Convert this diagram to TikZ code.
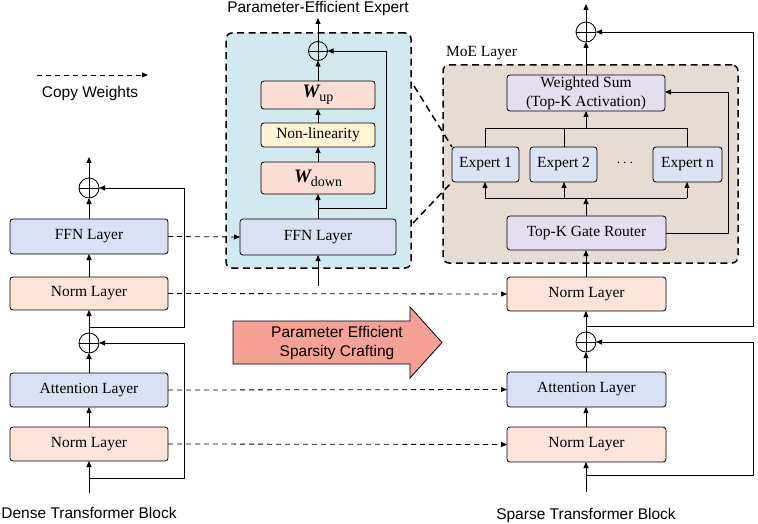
\documentclass[tikz,border=0pt]{standalone}
\usepackage{fontspec}
\setmainfont{Liberation Serif}
\newfontfamily\hv{Liberation Sans}
\usetikzlibrary{arrows.meta,calc}
\definecolor{cblue}{HTML}{DAE1F4}
\definecolor{cpeach}{HTML}{FCE4D8}
\definecolor{cwbox}{HTML}{FADDD3}
\definecolor{cyel}{HTML}{FFF4D6}
\definecolor{cexp}{HTML}{DBE3F5}
\definecolor{clav}{HTML}{E4DEF0}
\definecolor{cmoe}{HTML}{E7DCD3}
\definecolor{ccyan}{HTML}{D3E9F0}
\definecolor{csalmon}{HTML}{F5A195}
\begin{document}
\begin{tikzpicture}[x=1pt,y=-1pt,
  every node/.style={inner sep=0pt,outer sep=0pt},
  txt/.style={font=\fontsize{15.5}{19}\selectfont},
  stxt/.style={font=\hv\fontsize{15.5}{19}\selectfont},
  box/.style={draw,line width=0.8pt,rounded corners=3pt,align=center,txt},
  plusc/.style={draw,circle,line width=0.8pt,minimum size=20pt},
  ln/.style={line width=0.8pt},
  arr/.style={line width=0.8pt,-{Triangle[length=6pt,width=5pt]}},
  darr/.style={line width=0.8pt,dash pattern=on 5pt off 4pt,-{Triangle[length=6pt,width=5pt]}},
  grp/.style={draw,line width=1.5pt,dash pattern=on 7pt off 4.5pt,rounded corners=6pt}]
\useasboundingbox (0,0) rectangle (758,524);

% ---------- group backgrounds ----------
\node[grp,fill=ccyan,minimum width=185pt,minimum height=235pt] (ebg) at (318.5,150.5) {};
\node[grp,fill=cmoe,minimum width=295pt,minimum height=198pt] (mbg) at (590.5,164) {};

% ---------- labels ----------
\node[stxt] (title) at (318,8) {Parameter-Efficient Expert};
\node[txt,anchor=west] (moel) at (446,53) {MoE Layer};
\node[stxt] (cwl) at (90,93) {Copy Weights};
\node[stxt] (dtb) at (89,513) {Dense Transformer Block};
\node[stxt] (stb) at (586,515) {Sparse Transformer Block};

% legend
\coordinate (lg1) at (37,75);
\coordinate (lg2) at (148,75);
\draw[darr] (lg1) -- (lg2);

% ---------- dense block ----------
\node[box,fill=cblue,minimum width=158pt,minimum height=35pt] (lffn) at (89,236.5) {FFN Layer};
\node[box,fill=cpeach,minimum width=158pt,minimum height=33pt] (lnorm2) at (89,293.5) {Norm Layer};
\node[box,fill=cblue,minimum width=158pt,minimum height=34pt] (latt) at (89,390) {Attention Layer};
\node[box,fill=cpeach,minimum width=158pt,minimum height=34pt] (lnorm1) at (89,444) {Norm Layer};
\node[plusc] (lplus2) at (89,188) {};
\node[plusc] (lplus1) at (89,343) {};
\draw[ln] (lplus2.north)--(lplus2.south) (lplus2.west)--(lplus2.east);
\draw[ln] (lplus1.north)--(lplus1.south) (lplus1.west)--(lplus1.east);
\coordinate (lin) at (89,493);
\coordinate (lout) at (89,157);
\coordinate (lb1) at (89,478);
\coordinate (lb2) at (89,327);
\draw[arr] (lin) -- (lnorm1.south);
\draw[arr] (lnorm1) -- (latt);
\draw[arr] (latt) -- (lplus1);
\draw[arr] (lplus1) -- (lnorm2);
\draw[arr] (lnorm2) -- (lffn);
\draw[arr] (lffn) -- (lplus2);
\draw[arr] (lplus2) -- (lout);
\draw[arr] (lb1) -- (184,478) -- (184,343) -- (lplus1.east);
\draw[arr] (lb2) -- (184,327) -- (184,188) -- (lplus2.east);

% ---------- parameter-efficient expert ----------
\node[box,fill=cwbox,minimum width=114pt,minimum height=28pt] (wup) at (318,95)
  {{\fontsize{19}{19}\selectfont\bfseries\itshape W}\raisebox{-4pt}{\fontsize{14}{14}\selectfont up}};
\node[box,fill=cyel,minimum width=114pt,minimum height=24pt] (nonlin) at (318,135) {Non-linearity};
\node[box,fill=cwbox,minimum width=114pt,minimum height=32pt] (wdown) at (318,178)
  {{\fontsize{19}{19}\selectfont\bfseries\itshape W}\raisebox{-4pt}{\fontsize{14}{14}\selectfont down}};
\node[box,fill=cblue,minimum width=156pt,minimum height=36pt] (effn) at (318,237) {FFN Layer};
\node[plusc,minimum size=19pt] (eplus) at (318,51) {};
\draw[ln] (eplus.north)--(eplus.south) (eplus.west)--(eplus.east);
\coordinate (ein) at (318,286);
\coordinate (eout) at (318,18);
\coordinate (eb) at (318,208);
\draw[arr] (ein) -- (effn.south);
\draw[arr] (effn) -- (wdown);
\draw[arr] (wdown) -- (nonlin);
\draw[arr] (nonlin) -- (wup);
\draw[arr] (wup) -- (eplus);
\draw[arr] (eplus) -- (eout);
\draw[arr] (eb) -- (386,208) -- (386,51) -- (eplus.east);

% ---------- MoE layer ----------
\node[box,fill=clav,minimum width=158pt,minimum height=36pt] (wsum) at (586,93) {Weighted Sum\\(Top-K Activation)};
\node[box,fill=cexp,minimum width=67pt,minimum height=35pt] (e1) at (485.5,164.5) {Expert 1};
\node[box,fill=cexp,minimum width=67pt,minimum height=35pt] (e2) at (563.5,164.5) {Expert 2};
\node[box,fill=cexp,minimum width=69pt,minimum height=35pt] (en) at (687.5,164.5) {Expert n};
\node[txt] (dots) at (625,163) {$\cdots$};
\node[box,fill=clav,minimum width=159pt,minimum height=34pt] (router) at (586.5,233) {Top-K Gate Router};
\coordinate (bus1) at (586,198);
\coordinate (bus2) at (586,128);
\draw[arr] (586,216) -- (bus1);
\draw[ln] (485,198) -- (687,198);
\draw[arr] (485,198) -- (485,182);
\draw[arr] (564,198) -- (564,182);
\draw[arr] (687,198) -- (687,182);
\draw[ln] (485,147) -- (485,128) -- (687,128) -- (687,147);
\draw[ln] (564,147) -- (564,128);
\draw[arr] (bus2) -- (586,111);
\draw[arr] (router.east) -- (728,233) -- (728,92) -- (665,92);

% ---------- sparse block ----------
\node[box,fill=cpeach,minimum width=159pt,minimum height=34pt] (rnorm2) at (586.5,294) {Norm Layer};
\node[box,fill=cblue,minimum width=159pt,minimum height=35pt] (ratt) at (586.5,389.5) {Attention Layer};
\node[box,fill=cpeach,minimum width=159pt,minimum height=35pt] (rnorm1) at (586.5,444.5) {Norm Layer};
\node[plusc] (rplus1) at (586,342) {};
\node[plusc] (rplus2) at (586,32) {};
\draw[ln] (rplus1.north)--(rplus1.south) (rplus1.west)--(rplus1.east);
\draw[ln] (rplus2.north)--(rplus2.south) (rplus2.west)--(rplus2.east);
\coordinate (rin) at (586,492);
\coordinate (rout) at (586,4);
\coordinate (rb1) at (586,475);
\coordinate (rb2) at (586,326);
\draw[arr] (rin) -- (586,462);
\draw[arr] (586,427) -- (586,407);
\draw[arr] (586,372) -- (rplus1);
\draw[arr] (rplus1) -- (586,311);
\draw[arr] (586,277) -- (586,250);
\draw[arr] (586,75) -- (rplus2);
\draw[arr] (rplus2) -- (rout);
\draw[arr] (rb1) -- (753,475) -- (753,342) -- (rplus1.east);
\draw[arr] (rb2) -- (753,326) -- (753,32) -- (rplus2.east);

% ---------- copy weights ----------
\draw[darr] (lffn.east) -- (effn.west);
\draw[darr] (lnorm2.east) -- (rnorm2.west);
\draw[darr] (latt.east) -- (ratt.west);
\draw[darr] (lnorm1.east) -- (rnorm1.west);

% zoom lines
\coordinate (z1) at (414,86);
\coordinate (z2) at (413,223);
\draw[line width=1.5pt,dash pattern=on 7pt off 4.5pt] (z1) -- (e1.north west);
\draw[line width=1.5pt,dash pattern=on 7pt off 4.5pt] (z2) -- (e1.south west);

% ---------- big arrow ----------
\draw[line width=0.8pt,fill=csalmon] (233,321) -- (410,321) -- (410,307) -- (442,342.5) -- (410,378) -- (410,364) -- (233,364) -- cycle;
\node[stxt,align=center] (pesc) at (337,342.5) {Parameter Efficient\\Sparsity Crafting};
\end{tikzpicture}
\end{document}
